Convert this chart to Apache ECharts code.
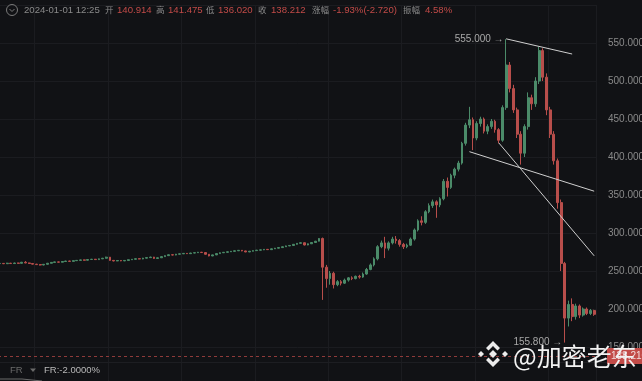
<!DOCTYPE html>
<html><head><meta charset="utf-8">
<script src="https://cdn.jsdelivr.net/npm/echarts@6/dist/echarts.min.js"></script>
<style>html,body{margin:0;padding:0;background:#111215;}#c{width:642px;height:381px;}</style>
</head><body><div id="c"></div>
<script>
const opens = [
259.8,260.0,259.6,260.3,259.8,260.5,260.1,261.5,260.6,259.9,
259.0,258.4,257.9,258.8,260.2,261.3,262.0,261.6,262.5,263.1,
262.7,263.6,264.0,264.6,264.2,265.1,265.5,265.0,266.0,266.8,
268.2,264.0,263.2,263.8,263.3,263.9,264.8,265.4,266.2,265.8,
266.9,267.6,268.3,266.5,267.4,268.9,270.2,271.4,271.0,272.1,
272.6,273.2,272.8,273.6,274.1,274.7,274.3,272.0,269.8,271.2,
272.9,274.0,274.6,275.3,275.9,276.6,277.2,276.4,275.1,276.0,
276.8,277.4,277.8,278.5,278.1,279.2,280.0,280.8,281.9,283.0,
283.6,285.1,286.4,287.2,284.2,285.8,287.5,289.2,
292.8,255,240,247,232,236,234,238,241,240,243,242,246,252,258,266,282,287,280,287,
292,290,285,282,284,292,304,316,314,328,336,341,337,345,368,360,376,384,392,418,
442,449,425,444,450,434,440,447,436,422,465,521,490,462,430,405,440,478,470,500,
540,505,462,430,395,340,260,188,206,190,204,192,200,194,198
];
const closes = [
260.0,259.6,260.3,259.8,260.5,260.1,261.5,260.6,259.9,259.0,
258.4,257.9,258.8,260.2,261.3,262.0,261.6,262.5,263.1,262.7,
263.6,264.0,264.6,264.2,265.1,265.5,265.0,266.0,266.8,268.2,
264.0,263.2,263.8,263.3,263.9,264.8,265.4,266.2,265.8,266.9,
267.6,268.3,266.5,267.4,268.9,270.2,271.4,271.0,272.1,272.6,
273.2,272.8,273.6,274.1,274.7,274.3,272.0,269.8,271.2,272.9,
274.0,274.6,275.3,275.9,276.6,277.2,276.4,275.1,276.0,276.8,
277.4,277.8,278.5,278.1,279.2,280.0,280.8,281.9,283.0,283.6,
285.1,286.4,287.2,284.2,285.8,287.5,289.2,292.8,
255,240,247,232,236,234,238,241,240,243,242,246,252,258,266,282,287,280,287,292,
290,285,282,284,292,304,316,314,328,336,341,337,345,368,360,376,384,392,418,442,
449,425,444,450,434,440,447,436,422,465,521,490,462,430,405,440,478,470,500,540,
505,462,430,395,340,260,188,206,190,204,192,200,194,198,193
];
const lows = [
259.3,259.1,259.2,259.4,259.4,259.7,259.8,260.2,259.4,258.6,
257.9,257.3,257.5,258.5,259.9,261.0,261.2,261.3,262.2,262.3,
262.4,263.2,263.7,263.8,263.9,264.8,264.6,264.7,265.7,266.5,
263.4,262.7,262.9,262.9,263.0,263.6,264.5,265.1,265.4,265.5,
266.6,267.3,266.0,266.2,267.1,268.6,269.9,270.6,270.7,271.8,
272.3,272.4,272.5,273.3,273.8,273.9,271.6,269.3,269.5,270.9,
272.6,273.7,274.3,275.0,275.6,276.3,276.0,274.7,274.8,275.7,
276.5,277.1,277.5,277.7,277.8,278.9,279.7,280.5,281.6,282.7,
283.3,284.8,286.1,283.7,283.9,285.5,287.2,288.9,
212,228,232,227,230,231,233,236,238,239,240,241,245,251,256,264,280,267,277,285,
286,282,279,280,283,290,302,310,312,326,333,320,334,343,348,358,372,381,390,415,
438,409,422,440,431,430,437,432,418,420,462,485,458,425,390,400,436,462,466,496,
500,455,425,390,332,250,155.8,177,184,186,188,190,192,192,191
];
const highs = [
260.5,260.4,260.8,260.7,261.0,260.9,262.0,263.0,261.0,260.2,
259.4,258.8,259.2,260.6,261.7,262.4,262.4,262.9,263.5,263.5,
264.0,264.4,265.0,265.0,265.5,265.9,265.9,266.4,267.2,268.8,
268.5,264.4,264.2,264.2,264.3,265.2,265.8,266.6,266.6,267.3,
268.0,268.8,268.6,267.8,269.3,270.6,271.8,271.8,272.5,273.0,
273.6,273.6,274.0,274.5,275.1,275.1,274.6,272.3,271.6,273.3,
274.4,275.0,275.7,276.3,277.0,277.6,277.6,276.7,276.4,277.2,
277.8,278.2,278.9,278.9,279.6,280.4,281.2,282.3,283.4,284.0,
285.5,286.8,287.8,287.5,286.2,287.9,289.6,293.4,
294,258,250,249,238,238,240,242,243,244,245,248,254,260,268,284,290,295,289,295,
296,292,287,286,294,306,318,322,330,339,344,343,347,371,373,378,386,395,420,445,
466,452,447,453,452,443,450,449,438,468,555,525,495,465,434,443,485,482,505,545,
543,510,466,434,398,344,262,211,214,207,206,202,202,200,199
];
const categories = opens.map((_, i) => 'K' + (i + 1));
const currentPrice = 138.212;
// trend lines: [startIndex, startValue, endIndex, endValue]
const trendUpper = [138, 555.5, 156, 535.5];
const trendMiddle = [128, 407, 162, 355];
const trendDiagonal = [136, 418.6, 162, 270];
const yTicks = {min: 100, max: 600, step: 50};
const headerTime = '2024-01-01 12:25';
const headerLabels = ['开', '高', '低', '收', '涨幅', '振幅'];
const headerValues = ['140.914', '141.475', '136.020', '138.212', '-1.93%(-2.720)', '4.58%'];
const frText = ['FR', 'FR:-2.0000%'];
const watermark = '@加密老东';

const UP = '#4b8b69', DOWN = '#b84e4b';
const FONT = '"Liberation Sans", "Noto Sans CJK SC", sans-serif';
const CJK = '"Noto Sans CJK SC", sans-serif';

const chart = echarts.init(document.getElementById('c'));
const ohlc = opens.map((o, i) => [o, closes[i], lows[i], highs[i]]);
const trend = (t) => [
  {coord: [t[0], t[1]], symbol: 'none', lineStyle: {color: '#cfcfcf', width: 1, type: 'solid'}, label: {show: false}},
  {coord: [t[2], t[3]], symbol: 'none'}
];

const labelX = [105, 156, 206, 258, 312, 403];
const valueX = [117, 168, 218, 271, 333, 425];
const txt = (x, y, text, fill, size, family) => ({
  type: 'text', x: x, y: y, z: 100,
  style: {text: text, fill: fill, font: size + 'px ' + (family || FONT), verticalAlign: 'middle', align: 'left'}
});
const graphics = [
  {type: 'circle', z: 100, shape: {cx: 12, cy: 10, r: 5.5}, style: {fill: 'none', stroke: '#7a7a7a', lineWidth: 1}},
  {type: 'polyline', z: 100, shape: {points: [[9.5, 9], [12, 11.5], [14.5, 9]]}, style: {stroke: '#7a7a7a', fill: null, lineWidth: 1}},
  txt(24, 10, headerTime, '#8a8a8a', 9.6)
];
headerLabels.forEach((l, i) => {
  graphics.push(txt(labelX[i], 10, l, '#8a8a8a', 8.5, CJK));
  graphics.push(txt(valueX[i], 10, headerValues[i], '#c24b48', 9.6));
});
graphics.push(
  {type: 'line', z: 5, shape: {x1: 0, y1: 362.5, x2: 642, y2: 362.5}, style: {stroke: '#1d1e22', lineWidth: 1}},
  txt(10, 370, frText[0], '#6a6a6a', 9.5),
  {type: 'polygon', z: 100, shape: {points: [[30, 368.5], [36, 368.5], [33, 372]]}, style: {fill: '#6a6a6a'}},
  txt(44, 370, frText[1], '#b9b9b9', 9.5),
  {type: 'polyline', z: 100, shape: {points: [[0, 379], [22, 379], [42, 381]]}, style: {stroke: '#6a6a6a', fill: null, lineWidth: 1}},
  {type: 'polygon', z: 200, shape: {points: [[493, 350], [497, 354], [493, 358], [489, 354]]}, style: {fill: '#ececec'}},
  {type: 'polygon', z: 200, shape: {points: [[481, 351], [484, 354], [481, 357], [478, 354]]}, style: {fill: '#ececec'}},
  {type: 'polygon', z: 200, shape: {points: [[505, 351], [508, 354], [505, 357], [502, 354]]}, style: {fill: '#ececec'}},
  {type: 'polygon', z: 200, shape: {points: [[486, 348], [493, 341], [500, 348], [497.5, 350.5], [493, 346], [488.5, 350.5]]}, style: {fill: '#ececec'}},
  {type: 'polygon', z: 200, shape: {points: [[486, 360], [493, 367], [500, 360], [497.5, 357.5], [493, 362], [488.5, 357.5]]}, style: {fill: '#ececec'}},
  {type: 'text', x: 513, y: 356, z: 200, style: {text: watermark, fill: '#f2f2f2', font: '25px ' + CJK, verticalAlign: 'middle', align: 'left'}}
);

chart.setOption({
  backgroundColor: '#111215',
  animation: false,
  grid: {left: -2, right: 46, top: 5, bottom: -4, containLabel: false, outerBoundsMode: 'none'},
  xAxis: {
    type: 'category', data: categories, boundaryGap: true,
    axisLine: {show: false}, axisTick: {show: false}, axisLabel: {show: false},
    splitLine: {show: true, interval: (i) => (i - 10) % 20 === 0, lineStyle: {color: '#1b1c20', width: 1}}
  },
  yAxis: {
    type: 'value', position: 'right', min: yTicks.min, max: yTicks.max, interval: yTicks.step,
    axisLine: {show: false}, axisTick: {show: false},
    axisLabel: {color: '#8a8a8a', fontSize: 10, fontFamily: FONT, margin: 12, showMinLabel: false, showMaxLabel: false,
      formatter: (v) => v.toFixed(3)},
    splitLine: {show: true, lineStyle: {color: '#1b1c20', width: 1}}
  },
  graphic: graphics,
  series: [{
    type: 'candlestick',
    data: ohlc,
    barWidth: '62%',
    itemStyle: {color: UP, color0: DOWN, borderColor: UP, borderColor0: DOWN, borderWidth: 1},
    markPoint: {
      symbol: 'circle', symbolSize: 1, silent: true,
      itemStyle: {color: 'rgba(0,0,0,0)'},
      label: {show: true, position: 'left', distance: 2, color: '#a8a8a8', fontSize: 10, fontFamily: FONT,
        formatter: (p) => p.value.toFixed(3) + ' →'},
      data: [
        {type: 'max', valueDim: 'highest'},
        {type: 'min', valueDim: 'lowest'}
      ]
    },
    markLine: {
      silent: true, symbol: ['none', 'none'], animation: false,
      data: [
        {yAxis: currentPrice, lineStyle: {color: '#8f3b3a', type: [3, 3], width: 1},
          label: {show: true, position: 'end', distance: 11, formatter: (p) => p.value.toFixed(3),
            backgroundColor: '#c24b48', color: '#f3dada', fontSize: 10, fontFamily: FONT, padding: [3, 4]}},
        trend(trendUpper),
        trend(trendMiddle),
        trend(trendDiagonal)
      ]
    }
  }]
});
</script></body></html>
